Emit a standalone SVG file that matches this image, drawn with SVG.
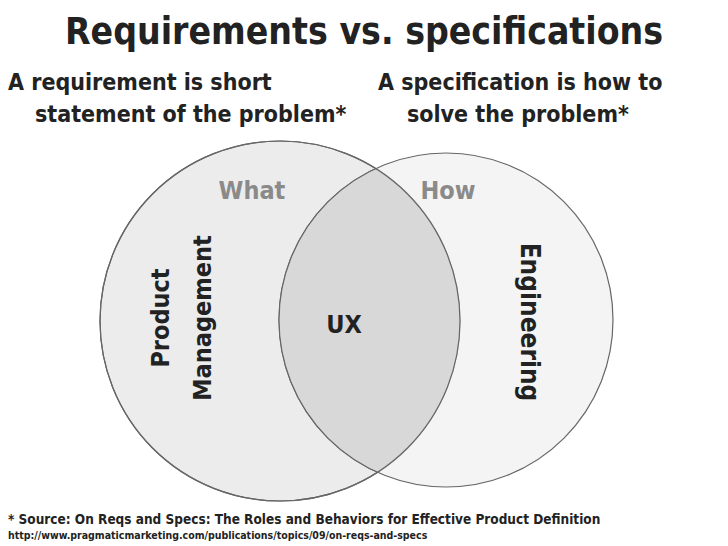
<svg xmlns="http://www.w3.org/2000/svg" width="728" height="546" viewBox="0 0 728 546">
<style>
text{font-family:"DejaVu Sans Condensed","DejaVu Sans",sans-serif;font-weight:bold;fill:#222}
.c{fill:#ececec;stroke:#666;stroke-width:1.2}
</style>
<defs><clipPath id="cl"><circle cx="280" cy="321" r="180"/></clipPath></defs>
<rect width="728" height="546" fill="#fff"/>
<text x="364" y="44" font-size="37" text-anchor="middle">Requirements vs. specifications</text>
<text x="8" y="90" font-size="23">A requirement is short</text>
<text x="35" y="122" font-size="23">statement of the problem*</text>
<text x="378" y="90" font-size="23">A specification is how to</text>
<text x="407" y="122" font-size="23">solve the problem*</text>
<g id="left"><circle class="c" cx="280" cy="321" r="180"/></g>
<g id="right"><circle class="c" cx="446" cy="320" r="167" fill-opacity="0.6"/></g>
<g id="overlap"><circle cx="446" cy="320" r="167" fill="#d8d8d8" stroke="#666" stroke-width="1.2" clip-path="url(#cl)"/><circle cx="280" cy="321" r="180" fill="none" stroke="#666" stroke-width="1.2"/></g>
<text x="252" y="199" font-size="25" text-anchor="middle" style="fill:#8a8a8a">What</text>
<text x="448" y="199" font-size="25" text-anchor="middle" style="fill:#8a8a8a">How</text>
<text x="344" y="333" font-size="25" text-anchor="middle">UX</text>
<text font-size="25" text-anchor="middle" transform="translate(169,318) rotate(-90)">Product</text>
<text font-size="25" text-anchor="middle" transform="translate(211,318) rotate(-90)">Management</text>
<text font-size="26" text-anchor="middle" transform="translate(521,322) rotate(90)">Engineering</text>
<text x="8" y="524" font-size="13.5">* Source: On Reqs and Specs: The Roles and Behaviors for Effective Product Definition</text>
<text x="8" y="539" font-size="10.5">http://www.pragmaticmarketing.com/publications/topics/09/on-reqs-and-specs</text>
</svg>
